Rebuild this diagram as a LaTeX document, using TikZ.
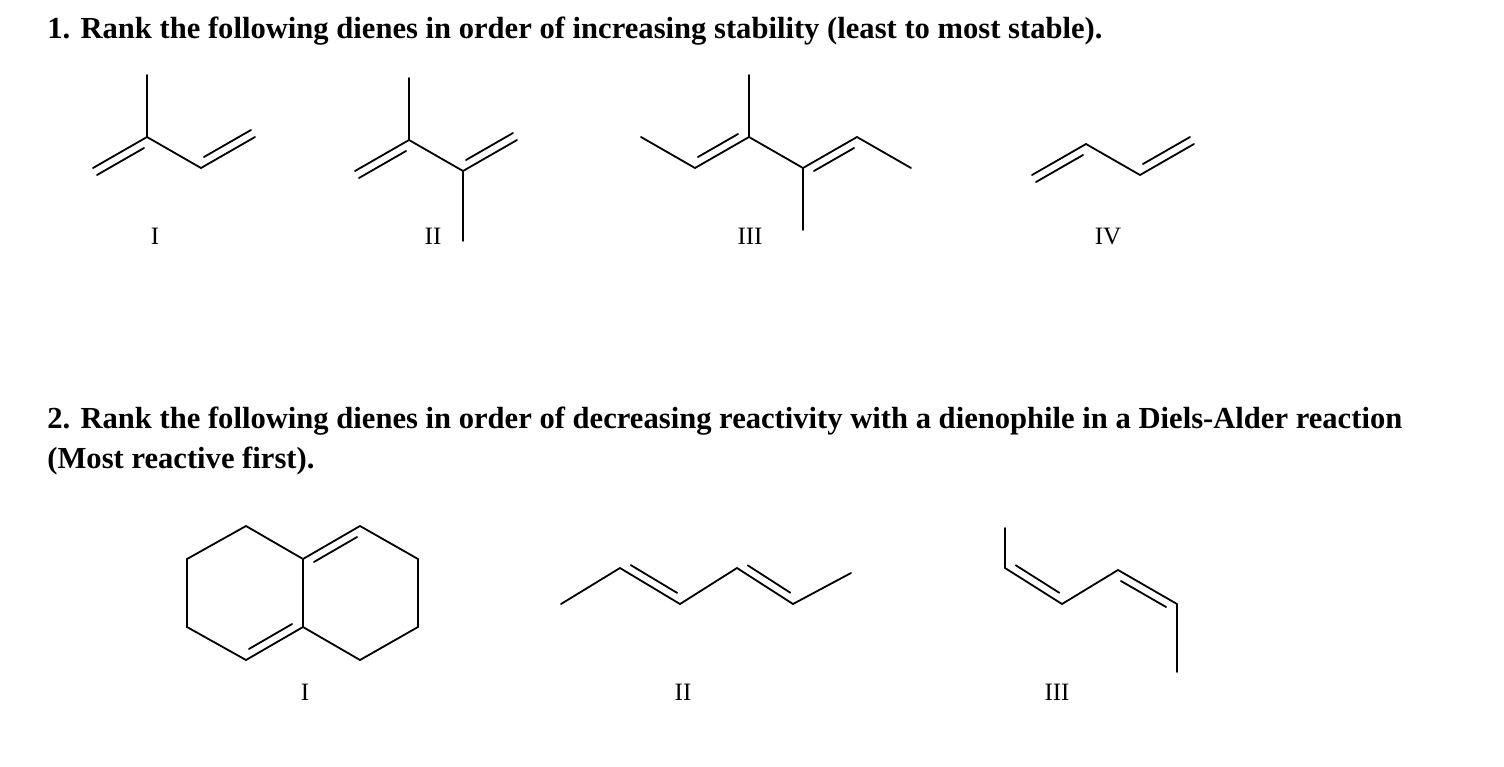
\documentclass[tikz,border=0pt]{standalone}
\usepackage{fontspec}
\setmainfont{Liberation Serif}
\begin{document}
\begin{tikzpicture}[x=0.5pt,y=-0.5pt,
  bond/.style={line width=0.9pt,line cap=round,line join=miter},
  q/.style={anchor=base west,inner sep=0pt,font=\fontsize{15.3}{18}\selectfont\bfseries},
  lab/.style={anchor=base,inner sep=0pt,font=\fontsize{12.5}{14}\selectfont}]
\useasboundingbox (0,0) rectangle (1504,766);
% texts
\node[q] (t1) at (47,38) {1. Rank the following dienes in order of increasing stability (least to most stable).};
\node[q] (t2) at (47,428) {2. Rank the following dienes in order of decreasing reactivity with a dienophile in a Diels-Alder reaction};
\node[q] (t3) at (47,468) {(Most reactive first).};
% ---- top I
\coordinate (a1) at (147,75); \coordinate (a2) at (147,137);
\coordinate (a3) at (93,168); \coordinate (a4) at (201,168); \coordinate (a5) at (255,137);
\draw[bond] (a1)--(a2)--(a4)--(a5); \draw[bond] (a3)--(a2);
\draw[bond,shorten >=4pt] ([shift={(4,7)}]a3)--([shift={(4,7)}]a2);
\draw[bond,shorten <=4pt] ([shift={(-4,-7)}]a4)--([shift={(-4,-7)}]a5);
\node[lab] (l1) at (155,244) {I};
% ---- top II
\coordinate (b1) at (409,78); \coordinate (b2) at (409,140);
\coordinate (b3) at (355,171); \coordinate (b4) at (463,171);
\coordinate (b5) at (463,241); \coordinate (b6) at (517,140);
\draw[bond] (b1)--(b2)--(b4)--(b5); \draw[bond] (b3)--(b2); \draw[bond] (b4)--(b6);
\draw[bond,shorten >=4pt] ([shift={(4,7)}]b3)--([shift={(4,7)}]b2);
\draw[bond,shorten <=4pt] ([shift={(-4,-7)}]b4)--([shift={(-4,-7)}]b6);
\node[lab] (l2) at (433,244) {II};
% ---- top III
\coordinate (c1) at (641,137); \coordinate (c2) at (695,168);
\coordinate (c3) at (749,137); \coordinate (c4) at (749,75);
\coordinate (c5) at (803,168); \coordinate (c6) at (803,230);
\coordinate (c7) at (857,137); \coordinate (c8) at (911,168);
\draw[bond] (c1)--(c2)--(c3)--(c5)--(c7)--(c8); \draw[bond] (c4)--(c3); \draw[bond] (c5)--(c6);
\draw[bond,shorten >=4pt,shorten <=4pt] ([shift={(-4,-7)}]c2)--([shift={(-4,-7)}]c3);
\draw[bond,shorten >=4pt,shorten <=4pt] ([shift={(4,7)}]c5)--([shift={(4,7)}]c7);
\node[lab] (l3) at (750,244) {III};
% ---- top IV
\coordinate (d1) at (1032,175); \coordinate (d2) at (1086,144);
\coordinate (d3) at (1140,175); \coordinate (d4) at (1194,144);
\draw[bond] (d1)--(d2)--(d3)--(d4);
\draw[bond,shorten >=4pt] ([shift={(4,7)}]d1)--([shift={(4,7)}]d2);
\draw[bond,shorten <=4pt] ([shift={(-4,-7)}]d3)--([shift={(-4,-7)}]d4);
\node[lab] (l4) at (1108,244) {IV};
% ---- bottom I
\coordinate (e1) at (187,559); \coordinate (e2) at (187,627);
\coordinate (e3) at (246,660); \coordinate (e4) at (303,627);
\coordinate (e5) at (303,559); \coordinate (e6) at (246,526);
\coordinate (e7) at (360,526); \coordinate (e8) at (418,559);
\coordinate (e9) at (418,627); \coordinate (e10) at (360,660);
\draw[bond] (e4)--(e3)--(e2)--(e1)--(e6)--(e5)--(e4)--(e10)--(e9)--(e8)--(e7)--(e5);
\draw[bond,shorten >=4pt,shorten <=4pt] ([shift={(4,7)}]e5)--([shift={(4,7)}]e7);
\draw[bond,shorten >=4pt,shorten <=4pt] ([shift={(-4,-7)}]e3)--([shift={(-4,-7)}]e4);
\node[lab] (l5) at (305,700) {I};
% ---- bottom II
\coordinate (f1) at (561,604); \coordinate (f2) at (620,568);
\coordinate (f3) at (680,604); \coordinate (f4) at (737,568);
\coordinate (f5) at (793,604); \coordinate (f6) at (851,573);
\draw[bond] (f1)--(f2)--(f3)--(f4)--(f5)--(f6);
\draw[bond,shorten >=4pt,shorten <=4pt] ([shift={(4,-7)}]f2)--([shift={(4,-7)}]f3);
\draw[bond,shorten >=4pt,shorten <=4pt] ([shift={(4,-7)}]f4)--([shift={(4,-7)}]f5);
\node[lab] (l6) at (683,700) {II};
% ---- bottom III
\coordinate (g1) at (1005,528); \coordinate (g2) at (1005,568);
\coordinate (g3) at (1062,604); \coordinate (g4) at (1118,570);
\coordinate (g5) at (1177,604); \coordinate (g6) at (1177,672);
\draw[bond] (g1)--(g2)--(g3)--(g4)--(g5)--(g6);
\draw[bond,shorten >=4pt,shorten <=4pt] ([shift={(4,-7)}]g2)--([shift={(4,-7)}]g3);
\draw[bond,shorten >=4pt,shorten <=4pt] ([shift={(-4,7)}]g4)--([shift={(-4,7)}]g5);
\node[lab] (l7) at (1057,700) {III};
\end{tikzpicture}
\end{document}
